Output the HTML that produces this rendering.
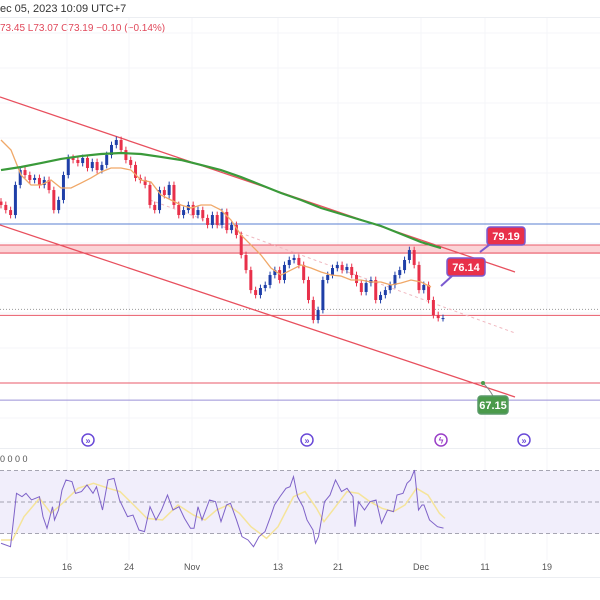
<!DOCTYPE html>
<html><head><meta charset="utf-8"><style>
html,body{margin:0;padding:0;background:#fff;width:600px;height:600px;overflow:hidden;font-family:"Liberation Sans",sans-serif}
svg{display:block}
</style></head><body>
<svg id="c" width="600" height="600" viewBox="0 0 600 600">
<text x="0" y="12" font-size="11" fill="#333">ec 05, 2023 10:09 UTC+7</text>
<line x1="0" y1="17.5" x2="600" y2="17.5" stroke="#eceef2"/>
<text x="0" y="31" font-size="10" fill="#e0485a">73.45  L73.07  C73.19  −0.10 (−0.14%)</text>
<g id="grid"></g>
<g id="draw"></g>
<g id="cand"></g>
<g id="ma"></g>
<g id="labels"></g>
<g id="rsi"></g>
<g id="xax"></g>
</svg>
<script>
const closes=[82.91,82.46,82.02,84.68,86.0,85.56,85.12,85.3,84.68,85.12,84.23,82.46,83.35,85.56,87.07,86.89,86.62,87.07,86.18,86.71,86.0,86.45,87.33,88.22,88.66,87.77,86.89,86.45,85.3,85.12,84.68,82.91,82.46,84.23,83.79,84.68,82.91,82.02,82.46,82.91,82.02,82.46,81.76,81.14,82.02,81.14,82.29,80.69,81.14,80.25,78.48,77.15,75.38,74.94,75.56,75.83,76.71,77.15,76.27,77.6,78.04,78.22,77.6,76.27,74.5,72.73,73.61,76.27,76.71,77.33,77.6,77.15,77.42,76.71,76.0,75.21,76.0,76.27,74.5,74.94,75.38,75.83,76.71,77.15,78.04,78.92,77.6,75.38,75.83,74.5,73.17,72.9,72.9];
const ma50=[88.66,87.77,85.56,84.68,84.68,85.12,84.41,84.41,84.85,85.3,85.83,86.18,86.18,86.0,85.12,84.94,83.79,83.35,82.91,82.64,82.91,82.91,82.46,81.58,80.25,79.37,78.48,77.33,76.71,77.15,77.6,77.33,76.98,76.71,76.62,76.27,76.27,76.09,76.09,75.83,76.0,76.27,76.09,75.65];
const ma200=[86.0,86.27,86.62,86.98,87.24,87.42,87.51,87.42,87.16,86.89,86.45,86.0,85.38,84.68,83.97,83.35,82.64,82.11,81.58,81.05,80.34,79.63,79.1];
const rsiT=[0,1.9,3.1,4.2,5,6.1,7.7,8.4,9.2,10.3,10.7,11.5,12.2,13,14.2,14.9,16.1,17.2,18.4,19.1,20.3,21.4,22.6,23.7,25.3,26.4,27.6,28.7,29.8,31,32.1,33.3,34.4,35.6,36.7,37.9,38.6,39.4,40.2,41.7,42.9,44,45.1,45.9,47.1,48.2,49.4,50.5,51.6,52.8,53.9,54.7,55.8,57,57.8,58.5,59.3,60.4,61.2,62.4,62.9,63.5,64.7,65.8,66.9,68.1,69.2,70.4,70.8,71.5,72.7,73.8,75,76.1,77.3,78.5,79.2,80.4,81.2,81.9,82.7,83.5,84.2,84.6,85.7,87.3,88.5];
const rsiV=[23.8,21.6,55.5,53.4,55.5,51.3,53.4,40.7,33.3,47.0,38.6,44.9,57.6,64.0,62.9,55.5,56.6,60.8,55.5,59.7,44.9,64.0,65.0,51.3,40.7,41.7,32.2,31.2,47.0,38.6,44.9,54.4,44.9,47.0,39.6,33.3,33.3,47.0,38.6,51.3,50.2,37.5,48.1,49.2,38.6,28.0,25.9,21.6,28.0,31.2,40.7,48.1,53.4,58.7,59.7,66.1,53.4,47.0,38.6,32.2,23.8,28.0,50.2,54.4,64.0,56.6,58.7,53.4,34.3,50.2,44.9,50.2,51.3,36.5,44.9,43.9,54.4,55.5,61.9,64.0,70.3,44.9,48.1,48.1,38.6,34.3,33.4];
const sigT=[0,2.3,4.6,7.7,10,12.3,15.4,18.5,21.5,23.8,26.2,29.2,32.3,35.4,38.5,40.8,43.1,45.4,47.7,50,53.1,55.4,58.5,60.8,63.1,64.6,66.9,69.2,71.5,73.8,76.2,78.5,80.8,83.1,85.4,87.7,88.8];
const sigV=[25.9,25.9,40.7,52.3,42.8,49.2,58.7,61.9,58.7,56.6,49.2,39.6,38.6,48.1,41.7,38.6,44.9,48.1,42.8,34.3,26.9,34.3,53.4,56.6,46.0,37.5,47.0,56.6,55.5,50.2,46.0,43.9,48.1,58.7,54.4,42.8,39.6];
const xTicks=["16","24","Nov","13","21","Dec","11","19"];
const xTickT=[13.2,25.6,38.2,55.4,67.4,84,96.8,109.2];
const levels=[81.22,79.19,73.67,73.14,67.15,65.64];

const NS="http://www.w3.org/2000/svg";
function mk(tag,a,p){const e=document.createElementNS(NS,tag);for(const k in a)e.setAttribute(k,a[k]);p.appendChild(e);return e;}
const X=t=>t*5+1;
const CX=i=>i*(442/(closes.length-1))+1;
const Y=p=>247-(p-79.19)*11.3;
const RY=v=>502-(v-50)*1.575;
const G=document.getElementById('grid');
for(let y=33;y<425;y+=35){const l=mk('line',{x1:0,x2:600,y1:y,y2:y,stroke:'#f4f5f8'},G);}
xTickT.forEach(t=>{const l=mk('line',{x1:X(t),x2:X(t),y1:18,y2:560,stroke:'#f4f5f8'},G);});
const D=document.getElementById('draw');
let e=mk('rect',{x:0,y:Y(levels[1])-2,width:600,height:9,fill:'#fbd3d6'},D);
[[levels[0],'#5a7fd0','resistance-line-blue'],[levels[1]+0.18,'#e85a68','zone-top-line'],[levels[1]-0.53,'#e85a68','zone-bottom-line'],[levels[3],'#e85a68','support-line'],[levels[4],'#e85a68','support-line-67'],[levels[5],'#9a90d8','support-line-purple']].forEach(a=>{const l=mk('line',{x1:0,x2:600,y1:Y(a[0]),y2:Y(a[0]),stroke:a[1],'stroke-width':1},D);});
e=mk('line',{x1:0,x2:600,y1:Y(levels[2]),y2:Y(levels[2]),stroke:'#999','stroke-dasharray':'1 2'},D);
e=mk('line',{x1:0,y1:97,x2:515,y2:272,stroke:'#e8505e','stroke-width':1.3},D);
e=mk('line',{x1:0,y1:225,x2:515,y2:397,stroke:'#e8505e','stroke-width':1.3},D);
e=mk('line',{x1:150,y1:200,x2:515,y2:333,stroke:'#f0b8c0','stroke-dasharray':'3 3'},D);
const C=document.getElementById('cand');
closes.forEach((c,i)=>{const o=i?closes[i-1]:c+0.3;const up=c>=o;const col=up?'#1f3fa8':'#e8304a';const hi=Math.max(o,c)+0.3,lo=Math.min(o,c)-0.3;
const w=mk('line',{x1:CX(i),x2:CX(i),y1:Y(hi),y2:Y(lo),stroke:col,'stroke-width':1},C);
const b=mk('rect',{x:CX(i)-1.5,y:Y(Math.max(o,c)),width:3,height:Math.max(1,Math.abs(Y(o)-Y(c))),fill:col},C);});
const M=document.getElementById('ma');
e=mk('path',{d:ma50.map((v,i)=>(i?'L':'M')+X(i*2)+' '+Y(v)).join(''),fill:'none',stroke:'#f0a868','stroke-width':1.3},M);
e=mk('path',{d:ma200.map((v,i)=>(i?'L':'M')+X(i*4)+' '+Y(v)).join(''),fill:'none',stroke:'#3a9a3a','stroke-width':2.2},M);
const L=document.getElementById('labels');
function lab(x,y,w,txt,bg,bd,nm){const g=mk('g',{},L);
mk('rect',{x:x,y:y,width:w,height:18,rx:3,fill:bg,stroke:bd,'stroke-width':1.5},g);const t=mk('text',{x:x+w/2,y:y+13,'font-size':11,'font-weight':'bold',fill:'#fff','text-anchor':'middle'},g);t.textContent=txt;}
e=mk('line',{x1:480,y1:252,x2:493,y2:242,stroke:'#7a5ad0','stroke-width':2},L);
e=mk('line',{x1:441,y1:286,x2:452,y2:276,stroke:'#7a5ad0','stroke-width':2},L);
e=mk('path',{d:'M483 383 Q490 390 493 396',fill:'none',stroke:'#888'},L);
e=mk('circle',{cx:483,cy:383,r:2,fill:'#4a9a4a'},L);
lab(487,227,38,'79.19','#e8304a','#7a5ad0','label-79-19');
lab(447,258,38,'76.14','#e8304a','#7a5ad0','label-76-14');
lab(478,396,30,'67.15','#4a9a4a','#5a9a6a','label-67-15');
[[88,'#6a4ad8','»'],[307,'#6a4ad8','»'],[441,'#9a40c8','ϟ'],[524,'#6a4ad8','»']].forEach(a=>{const g=mk('g',{},L);
mk('circle',{cx:a[0],cy:440,r:6,fill:'#fff',stroke:a[1],'stroke-width':1.5},g);const t=mk('text',{x:a[0],y:443.5,'font-size':9,fill:a[1],'text-anchor':'middle','font-weight':'bold'},g);t.textContent=a[2];});
e=mk('line',{x1:0,x2:600,y1:448.5,y2:448.5,stroke:'#eceef2'},L);
const R=document.getElementById('rsi');
e=mk('text',{x:0,y:462,'font-size':9,fill:'#555'},R);e.textContent='0  0  0  0';
e=mk('rect',{x:0,y:RY(70),width:600,height:RY(30)-RY(70),fill:'#f1eefb'},R);
[70,50,30].forEach(v=>{const l=mk('line',{x1:0,x2:600,y1:RY(v),y2:RY(v),stroke:'#8a8a9a','stroke-dasharray':'4 3','stroke-width':0.8},R);});
e=mk('path',{d:sigT.map((t,i)=>(i?'L':'M')+X(t)+' '+RY(sigV[i])).join(''),fill:'none',stroke:'#f5e49a','stroke-width':1.5},R);
const n=Math.min(rsiT.length,rsiV.length);
e=mk('path',{d:rsiV.slice(0,n).map((v,i)=>(i?'L':'M')+X(rsiT[i])+' '+RY(v)).join(''),fill:'none',stroke:'#7e62c8','stroke-width':1},R);
const XA=document.getElementById('xax');
xTicks.forEach((s,i)=>{const t=mk('text',{x:X(xTickT[i]),y:570,'font-size':9,fill:'#555','text-anchor':'middle'},XA);t.textContent=s;});
e=mk('line',{x1:0,x2:600,y1:577.5,y2:577.5,stroke:'#eceef2'},XA);
</script>
</body></html>
